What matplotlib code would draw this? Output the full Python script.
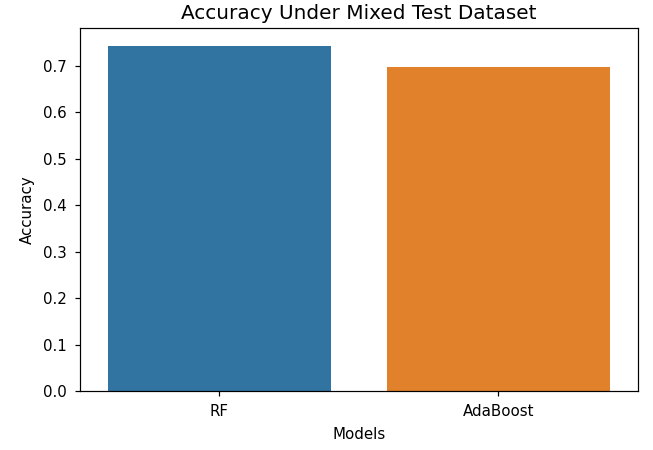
import matplotlib
matplotlib.use('Agg')
import pandas as pd
import seaborn as sns
from matplotlib import pyplot as plt

# Values
models = ['RF', 'AdaBoost']
accuracy = [0.743, 0.698]

df = pd.DataFrame({'Models': models, 'Accuracy': accuracy})

DPI = 108
plt.rcParams['xtick.major.pad'] = 5
plt.rcParams['ytick.major.pad'] = 5
plt.rcParams['axes.labelpad'] = 5.5

fig = plt.figure(figsize=(653 / DPI, 450 / DPI), dpi=DPI)
ax = fig.add_axes([0.1225, 0.131, 0.8545, 0.8057])

sns.barplot(data=df, x='Models', y='Accuracy', hue='Models', legend=False, ax=ax)

ax.set_title('Accuracy Under Mixed Test Dataset', fontsize=13.3)

fig.savefig('out.png', dpi=DPI)
plt.close(fig)
